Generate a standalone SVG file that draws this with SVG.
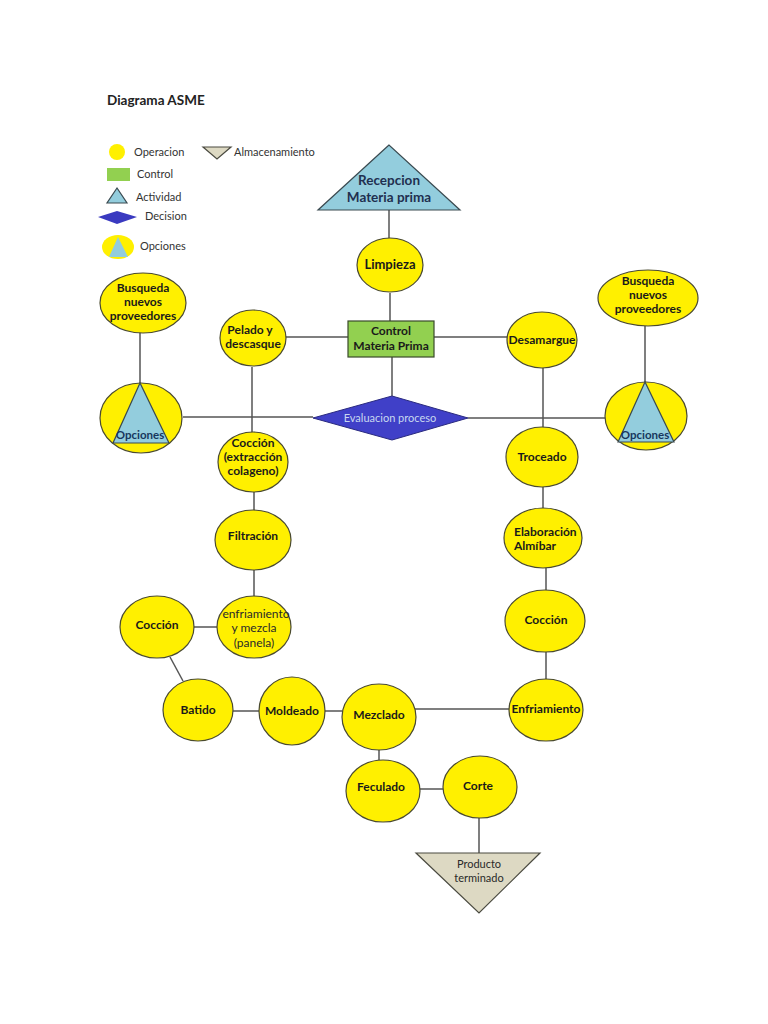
<svg xmlns="http://www.w3.org/2000/svg" width="768" height="1024" viewBox="0 0 768 1024">
<style>
text{font-family:Lato,"Liberation Sans",sans-serif;}
.op{fill:#FFF000;stroke:#4a4a30;stroke-width:1.2;}
.act{fill:#93CDDD;stroke:#3a4a50;stroke-width:1.2;}
.ctl{fill:#92D050;stroke:#3a4a2a;stroke-width:1.2;}
.alm{fill:#DDD9C3;stroke:#4a4a40;stroke-width:1.2;}
.dec{fill:#4040C8;stroke:#2a2a80;stroke-width:1;}
.t{font-size:12px;font-weight:bold;fill:#1a1a1a;text-anchor:middle;}
.tn{font-size:12px;fill:#2a2a2a;text-anchor:middle;}
.lg{font-size:11px;fill:#333;}
.nv{font-size:13.5px;font-weight:bold;fill:#1F3050;text-anchor:middle;}
.op2{font-size:11.5px;font-weight:bold;fill:#17375E;text-anchor:middle;}
#connectors line{stroke:#555;stroke-width:1.5;}
</style>
<rect width="768" height="1024" fill="#fff"/>
<text x="107" y="105" style="font-size:13.5px;font-weight:bold;fill:#222">Diagrama ASME</text>

<g id="legend">
  <circle cx="117" cy="152" r="8" fill="#FFF000"/>
  <text class="lg" x="134" y="156">Operacion</text>
  <rect x="107" y="168" width="23" height="13" fill="#92D050"/>
  <text class="lg" x="137" y="178">Control</text>
  <polygon class="act" points="117,188 107,203 127,203"/>
  <text class="lg" x="136" y="201">Actividad</text>
  <polygon points="98,217 117,211 137,217 117,224" fill="#3A3AC0"/>
  <text class="lg" x="145" y="220">Decision</text>
  <ellipse cx="118" cy="247" rx="16" ry="12" fill="#FFF000"/>
  <polygon points="118,237 109,257 128,257" fill="#93CDDD"/>
  <text class="lg" x="140" y="250">Opciones</text>
  <polygon class="alm" points="203,147 231,147 217,159"/>
  <text class="lg" x="234" y="156">Almacenamiento</text>
</g>

<g id="connectors">
  <line x1="389" y1="210" x2="389" y2="238"/>
  <line x1="390" y1="293" x2="390" y2="321"/>
  <line x1="285" y1="337" x2="348" y2="337"/>
  <line x1="434" y1="337" x2="507" y2="337"/>
  <line x1="392" y1="357" x2="392" y2="396"/>
  <line x1="183" y1="417" x2="313" y2="417"/>
  <line x1="468" y1="418" x2="605" y2="418"/>
  <line x1="140" y1="332" x2="140" y2="383"/>
  <line x1="645" y1="326" x2="645" y2="382"/>
  <line x1="252" y1="367" x2="252" y2="433"/>
  <line x1="543" y1="368" x2="543" y2="428"/>
  <line x1="254" y1="492" x2="254" y2="510"/>
  <line x1="254" y1="570" x2="254" y2="597"/>
  <line x1="193" y1="627" x2="217" y2="627"/>
  <line x1="170" y1="657" x2="183" y2="681"/>
  <line x1="233" y1="711" x2="259" y2="711"/>
  <line x1="324" y1="711" x2="342" y2="711"/>
  <line x1="415" y1="709" x2="509" y2="709"/>
  <line x1="543" y1="487" x2="543" y2="508"/>
  <line x1="546" y1="568" x2="546" y2="590"/>
  <line x1="546" y1="652" x2="546" y2="680"/>
  <line x1="379" y1="750" x2="379" y2="760"/>
  <line x1="420" y1="789" x2="443" y2="789"/>
  <line x1="479" y1="818" x2="479" y2="853"/>
</g>

<g id="recepcion">
  <polygon class="act" points="389,145 318,210 460,210"/>
  <text class="nv" x="389" y="185">Recepcion</text>
  <text class="nv" x="389" y="202">Materia prima</text>
</g>
<g id="limpieza">
  <ellipse class="op" cx="390" cy="265" rx="33" ry="27"/>
  <text class="t" x="390" y="269" style="font-size:13px">Limpieza</text>
</g>
<g id="control">
  <rect class="ctl" x="348" y="321" width="86" height="36"/>
  <text class="t" x="391" y="335">Control</text>
  <text class="t" x="391" y="350">Materia Prima</text>
</g>
<g id="pelado">
  <ellipse class="op" cx="253" cy="338" rx="33" ry="28"/>
  <text class="t" x="250" y="334">Pelado y</text>
  <text class="t" x="253" y="348">descasque</text>
</g>
<g id="desamargue">
  <ellipse class="op" cx="542" cy="340" rx="35" ry="28"/>
  <text class="t" x="542" y="344">Desamargue</text>
</g>
<g id="evaluacion">
  <polygon class="dec" points="313,418 392,396 468,418 392,440"/>
  <text x="390" y="422" style="font-size:11px;fill:#C8D8F0;text-anchor:middle">Evaluacion proceso</text>
</g>
<g id="busqueda-izq">
  <ellipse class="op" cx="143" cy="303" rx="43" ry="30"/>
  <text class="t" x="143" y="292">Busqueda</text>
  <text class="t" x="143" y="306">nuevos</text>
  <text class="t" x="143" y="320">proveedores</text>
</g>
<g id="opciones-izq">
  <ellipse class="op" cx="141" cy="418" rx="41" ry="35"/>
  <polygon class="act" points="140,383 113,443 169,443"/>
  <text class="op2" x="140" y="439">Opciones</text>
</g>
<g id="busqueda-der">
  <ellipse class="op" cx="648" cy="298" rx="50" ry="28"/>
  <text class="t" x="648" y="285">Busqueda</text>
  <text class="t" x="648" y="299">nuevos</text>
  <text class="t" x="648" y="313">proveedores</text>
</g>
<g id="opciones-der">
  <ellipse class="op" cx="646" cy="416" rx="41" ry="34"/>
  <polygon class="act" points="645,382 618,442 674,442"/>
  <text class="op2" x="645" y="439">Opciones</text>
</g>
<g id="coccion-extraccion">
  <ellipse class="op" cx="253" cy="462" rx="35" ry="30"/>
  <text class="t" x="253" y="447">Cocción</text>
  <text class="t" x="253" y="461">(extracción</text>
  <text class="t" x="253" y="475">colageno)</text>
</g>
<g id="troceado">
  <ellipse class="op" cx="542" cy="457" rx="36" ry="30"/>
  <text class="t" x="542" y="461">Troceado</text>
</g>
<g id="filtracion">
  <ellipse class="op" cx="253" cy="540" rx="38" ry="30"/>
  <text class="t" x="253" y="540">Filtración</text>
</g>
<g id="elaboracion">
  <ellipse class="op" cx="543" cy="538" rx="39" ry="30"/>
  <text class="t" x="514" y="536" style="text-anchor:start">Elaboración</text>
  <text class="t" x="514" y="550" style="text-anchor:start">Almíbar</text>
</g>
<g id="enfriamiento-mezcla">
  <ellipse class="op" cx="254" cy="627" rx="37" ry="31"/>
  <text class="tn" x="256" y="618">enfriamiento</text>
  <text class="tn" x="254" y="632">y mezcla</text>
  <text class="tn" x="254" y="647">(panela)</text>
</g>
<g id="coccion-izq">
  <ellipse class="op" cx="157" cy="627" rx="37" ry="31"/>
  <text class="t" x="157" y="629">Cocción</text>
</g>
<g id="coccion-der">
  <ellipse class="op" cx="545" cy="621" rx="40" ry="31"/>
  <text class="t" x="546" y="624">Cocción</text>
</g>
<g id="batido">
  <ellipse class="op" cx="198" cy="710" rx="35" ry="31"/>
  <text class="t" x="198" y="714">Batido</text>
</g>
<g id="moldeado">
  <ellipse class="op" cx="292" cy="711" rx="33" ry="34"/>
  <text class="t" x="292" y="715">Moldeado</text>
</g>
<g id="mezclado">
  <ellipse class="op" cx="379" cy="717" rx="37" ry="33"/>
  <text class="t" x="379" y="719">Mezclado</text>
</g>
<g id="enfriamiento">
  <ellipse class="op" cx="546" cy="710" rx="37" ry="31"/>
  <text class="t" x="546" y="713">Enfriamiento</text>
</g>
<g id="feculado">
  <ellipse class="op" cx="383" cy="791" rx="37" ry="31"/>
  <text class="t" x="381" y="791">Feculado</text>
</g>
<g id="corte">
  <ellipse class="op" cx="480" cy="787" rx="37" ry="31"/>
  <text class="t" x="478" y="790">Corte</text>
</g>
<g id="producto">
  <polygon class="alm" points="416,853 540,853 479,913"/>
  <text class="tn" x="479" y="868" style="font-size:11px">Producto</text>
  <text class="tn" x="479" y="882" style="font-size:11px">terminado</text>
</g>
</svg>
